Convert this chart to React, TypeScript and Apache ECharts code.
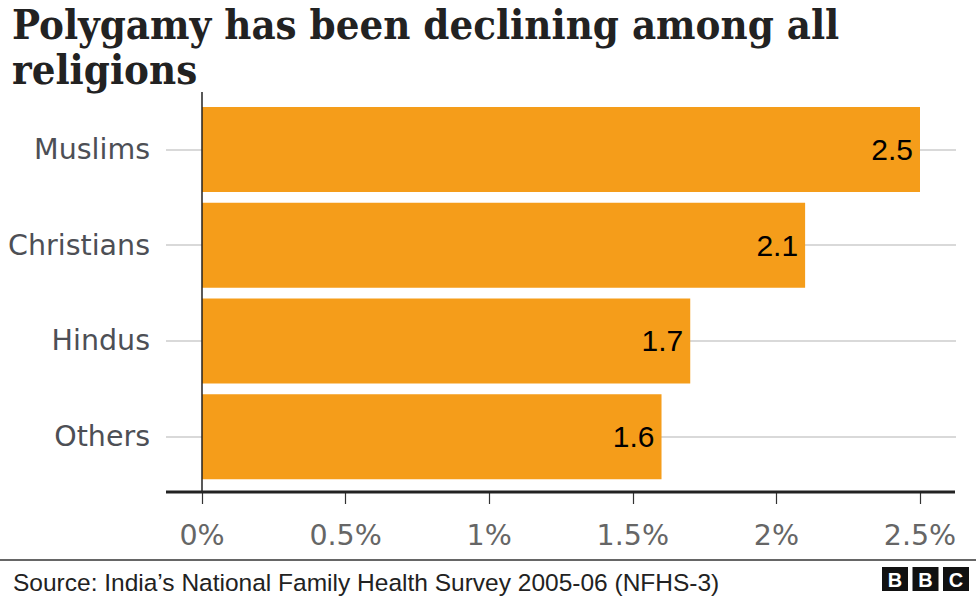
import React, { useEffect, useRef } from "react";
import * as echarts from "echarts";

const categories = ["Muslims", "Christians", "Hindus", "Others"];
const values = [2.5, 2.1, 1.7, 1.6];
const xTicks = { min: 0, max: 2.5, interval: 0.5 };
const titleText = "Polygamy has been declining among all\nreligions";
const sourceText = "Source: India\u2019s National Family Health Survey 2005-06 (NFHS-3)";
const logoLetters = ["B", "B", "C"];

export default function App() {
  const ref = useRef<HTMLDivElement>(null);
  useEffect(() => {
    document.body.style.margin = "0";
    const chart = echarts.init(ref.current!, null, { renderer: "svg" });
    const logo = logoLetters.map((ch, i) => ({
      type: "group",
      x: 882 + i * 30.5,
      y: 567,
      children: [
        { type: "rect", shape: { x: 0, y: 0, width: 26, height: 24 }, style: { fill: "#111" } },
        {
          type: "text",
          x: 13,
          y: 12.5,
          style: {
            text: ch,
            fill: "#fff",
            font: "bold 20px 'Liberation Sans', Arial, sans-serif",
            align: "center",
            verticalAlign: "middle",
          },
        },
      ],
    }));
    chart.setOption({
      animation: false,
      backgroundColor: "#fff",
      title: [
        {
          text: titleText,
          left: 7,
          top: -3,
          textStyle: {
            fontFamily: "'DejaVu Serif Condensed', 'DejaVu Serif', serif",
            fontWeight: "bold",
            fontSize: 41.5,
            lineHeight: 45,
            color: "#222",
          },
        },
        {
          text: sourceText,
          left: 8,
          top: 565,
          textStyle: {
            fontFamily: "'Liberation Sans', Arial, sans-serif",
            fontWeight: "normal",
            fontSize: 24.5,
            color: "#222",
          },
        },
      ],
      grid: { left: 202, top: 101.5, width: 718, height: 383, containLabel: false },
      xAxis: {
        type: "value",
        min: xTicks.min,
        max: xTicks.max,
        interval: xTicks.interval,
        offset: 7.5,
        axisLine: { show: false },
        axisTick: { show: true, length: 12, lineStyle: { color: "#333", width: 1.2 } },
        splitLine: { show: false },
        axisLabel: {
          formatter: (v: number) => `${v}%`,
          fontFamily: "'DejaVu Sans', sans-serif",
          fontSize: 28.5,
          color: "#666",
          margin: 29,
        },
      },
      yAxis: [
        {
          type: "category",
          data: categories,
          inverse: true,
          position: "left",
          axisLine: { show: false },
          axisTick: { show: true, alignWithLabel: true, length: 36, lineStyle: { color: "#ccc", width: 1.5 } },
          axisLabel: {
            fontFamily: "'DejaVu Sans', sans-serif",
            fontSize: 28.5,
            color: "#4d4f55",
            margin: 52,
          },
        },
        {
          type: "category",
          data: categories,
          inverse: true,
          position: "left",
          offset: 0,
          axisLine: { show: false },
          axisTick: { show: true, inside: true, alignWithLabel: true, length: 754, lineStyle: { color: "#ccc", width: 1.5 } },
          axisLabel: { show: false },
        },
      ],
      series: [
        {
          type: "bar",
          data: values,
          barWidth: 85,
          itemStyle: { color: "#F59D1A" },
          label: {
            show: true,
            position: "insideRight",
            distance: 7,
            color: "#000",
            fontFamily: "'Liberation Sans', Arial, sans-serif",
            fontSize: 30,
          },
        },
      ],
      graphic: [
        { type: "line", shape: { x1: 202, y1: 92, x2: 202, y2: 492 }, style: { stroke: "#222", lineWidth: 1.5 }, z: 10 },
        { type: "line", shape: { x1: 166, y1: 492, x2: 955, y2: 492 }, style: { stroke: "#222", lineWidth: 3 }, z: 10 },
        { type: "line", shape: { x1: 0, y1: 560, x2: 976, y2: 560 }, style: { stroke: "#333", lineWidth: 1.5 } },
        ...logo,
      ],
    });
    return () => chart.dispose();
  }, []);
  return <div ref={ref} style={{ width: 976, height: 600 }} />;
}
